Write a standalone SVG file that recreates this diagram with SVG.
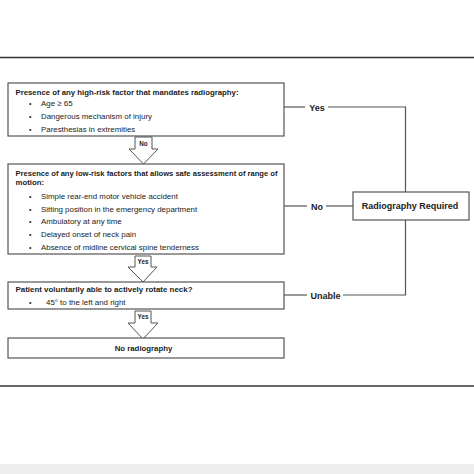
<svg xmlns="http://www.w3.org/2000/svg" width="474" height="474" viewBox="0 0 474 474">
<style>
.box{fill:#fff;stroke:#555;stroke-width:1.2}
.ln{fill:none;stroke:#555;stroke-width:1.2}
.arr{fill:#fff;stroke:#555;stroke-width:1}
text{font-family:"Liberation Sans",Arial,sans-serif;fill:#222}
.h{font-size:7.8px;font-weight:bold}
.t{font-size:7.9px}
.b{font-size:7px}
.lbl{font-size:9px;font-weight:bold}
.al{font-size:6.3px;font-weight:bold}
</style>
<rect x="0" y="0" width="474" height="474" fill="#fff"/>
<line x1="0" y1="57.5" x2="474" y2="57.5" stroke="#333" stroke-width="1.5"/>
<line x1="0" y1="386" x2="474" y2="386" stroke="#333" stroke-width="1.5"/>
<rect x="0" y="464" width="474" height="10" fill="#eee"/>

<g id="connectors">
<polyline class="ln" points="284,107 305,107"/>
<polyline class="ln" points="328,107 405.5,107 405.5,192"/>
<text class="lbl" x="317" y="110.5" text-anchor="middle">Yes</text>
<polyline class="ln" points="284,206 307,206"/>
<polyline class="ln" points="326,206 353,206"/>
<text class="lbl" x="317" y="209.5" text-anchor="middle">No</text>
<polyline class="ln" points="405.5,220 405.5,295 343,295"/>
<polyline class="ln" points="284,295 307,295"/>
<text class="lbl" x="325.5" y="298.5" text-anchor="middle">Unable</text>
<g id="arrow1">
<polygon class="arr" points="135,137 152,137 152,149 158,149 143.5,164 129,149 135,149"/>
<text class="al" x="143.5" y="146" text-anchor="middle">No</text>
</g>
<g id="arrow2">
<polygon class="arr" points="135,256 151,256 151,267 157,267 143,282 128,267 135,267"/>
<text class="al" x="143" y="264" text-anchor="middle">Yes</text>
</g>
<g id="arrow3">
<polygon class="arr" points="135,311 151,311 151,323 158,323 143,339 128,323 135,323"/>
<text class="al" x="143" y="319" text-anchor="middle">Yes</text>
</g>
</g>

<g id="node1">
<rect class="box" x="8" y="83" width="276" height="53"/>
<text class="h" x="15.5" y="95" textLength="223" lengthAdjust="spacingAndGlyphs">Presence of any high-risk factor that mandates radiography:</text>
<text class="b" x="29" y="106">•</text><text class="t" x="41" y="106">Age ≥ 65</text>
<text class="b" x="29" y="119">•</text><text class="t" x="41" y="119">Dangerous mechanism of injury</text>
<text class="b" x="29" y="131.5">•</text><text class="t" x="41" y="131.5">Paresthesias in extremities</text>
</g>

<g id="node2">
<rect class="box" x="8" y="164" width="276" height="90"/>
<text class="h" x="15.5" y="175.5" textLength="262" lengthAdjust="spacingAndGlyphs">Presence of any low-risk factors that allows safe assessment of range of</text>
<text class="h" x="15.5" y="184.5">motion:</text>
<text class="b" x="29" y="198.5">•</text><text class="t" x="41" y="198.5">Simple rear-end motor vehicle accident</text>
<text class="b" x="29" y="211.5">•</text><text class="t" x="41" y="211.5">Sitting position in the emergency department</text>
<text class="b" x="29" y="224">•</text><text class="t" x="41" y="224">Ambulatory at any time</text>
<text class="b" x="29" y="237">•</text><text class="t" x="41" y="237">Delayed onset of neck pain</text>
<text class="b" x="29" y="249.5">•</text><text class="t" x="41" y="249.5">Absence of midline cervical spine tenderness</text>
</g>

<g id="node3">
<rect class="box" x="8" y="282" width="276" height="27"/>
<text class="h" x="15.5" y="292" textLength="177" lengthAdjust="spacingAndGlyphs">Patient voluntarily able to actively rotate neck?</text>
<text class="b" x="29" y="304.5">•</text><text class="t" x="46" y="304.5">45° to the left and right</text>
</g>

<g id="node4">
<rect class="box" x="8" y="338" width="276" height="20"/>
<text class="h" x="143.5" y="350.5" text-anchor="middle">No radiography</text>
</g>

<g id="node5">
<rect class="box" x="353" y="192" width="116" height="28"/>
<text class="lbl" x="410" y="209" text-anchor="middle">Radiography Required</text>
</g>
</svg>
